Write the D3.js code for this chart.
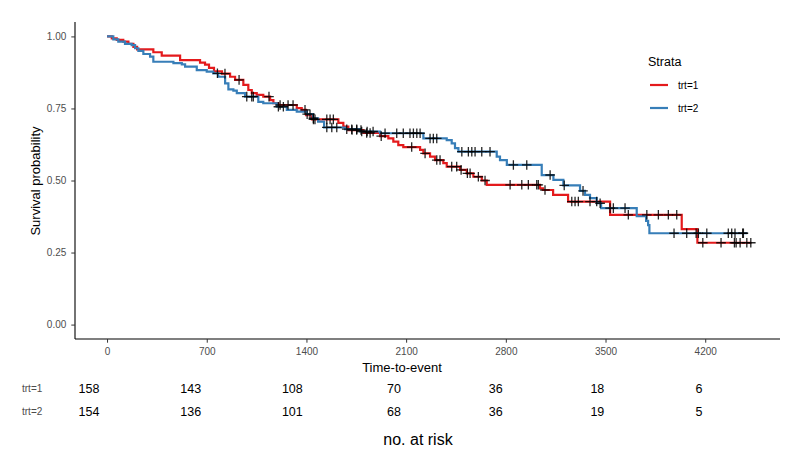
<!DOCTYPE html>
<html>
<head>
<meta charset="utf-8">
<script src="https://cdn.jsdelivr.net/npm/d3@7/dist/d3.min.js"></script>
<style>
  body { margin: 0; background: #fff; }
  text { font-family: "Liberation Sans", Arial, Helvetica, sans-serif; }
</style>
</head>
<body>
<svg id="chart" width="800" height="450"></svg>
<script>
// ---- data ----
var strata = ["trt=1", "trt=2"];
var colors = ["#E41A1C", "#377EB8"];

// trt=1 : step times (days) and survival after each step
var time1 = [0, 33, 68, 114, 150, 185, 211, 325, 384, 513, 653, 688, 716, 751, 807, 864, 899, 957, 992, 1016,
  1051, 1097, 1145, 1168, 1203, 1332, 1367, 1397, 1439, 1624, 1659, 1694, 1800, 1917, 1975, 2010, 2045, 2080,
  2198, 2221, 2268, 2303, 2361, 2385, 2479, 2526, 2572, 2631, 2666, 3040, 3061, 3132, 3237, 3532, 4035, 4145];
var surv1 = [1, 0.993, 0.988, 0.982, 0.974, 0.964, 0.955, 0.945, 0.933, 0.918, 0.909, 0.902, 0.891, 0.879, 0.871,
  0.860, 0.849, 0.832, 0.814, 0.803, 0.797, 0.791, 0.779, 0.768, 0.762, 0.751, 0.745, 0.727, 0.712, 0.700, 0.687,
  0.675, 0.665, 0.654, 0.646, 0.635, 0.623, 0.616, 0.606, 0.594, 0.583, 0.571, 0.560, 0.548, 0.537, 0.525, 0.513,
  0.500, 0.485, 0.473, 0.467, 0.450, 0.427, 0.381, 0.331, 0.284];
var end1 = 4523;
var cens1 = [828, 927, 1137, 1215, 1271, 1306, 1390, 1449, 1460, 1543, 1566, 1589, 1720, 1753, 1783, 1823, 1847,
  1925, 2139, 2233, 2315, 2338, 2420, 2455, 2486, 2530, 2549, 2607, 2654, 2830, 2912, 2958, 3017, 3028, 3075,
  3263, 3286, 3309, 3391, 3438, 3660, 3790, 3871, 3941, 4000, 4183, 4311, 4405, 4417, 4445, 4492, 4520];

// trt=2
var time2 = [0, 44, 79, 126, 173, 197, 220, 255, 302, 325, 466, 525, 548, 630, 700, 746, 781, 829, 852, 887, 911,
  969, 1062, 1097, 1192, 1262, 1332, 1402, 1446, 1482, 1524, 1671, 1776, 1917, 2221, 2385, 2420, 2443, 2467,
  2736, 2759, 2807, 3052, 3134, 3204, 3321, 3356, 3391, 3438, 3469, 3719, 3785, 3799, 3808];
var surv2 = [1, 0.990, 0.982, 0.974, 0.970, 0.959, 0.950, 0.939, 0.930, 0.912, 0.907, 0.903, 0.895, 0.883, 0.878,
  0.872, 0.860, 0.837, 0.816, 0.812, 0.803, 0.791, 0.773, 0.768, 0.756, 0.745, 0.739, 0.730, 0.716, 0.704, 0.684,
  0.678, 0.670, 0.664, 0.646, 0.640, 0.629, 0.612, 0.600, 0.583, 0.571, 0.554, 0.519, 0.502, 0.483, 0.464, 0.450,
  0.439, 0.421, 0.404, 0.376, 0.360, 0.345, 0.317];
var end2 = 4496;
var cens2 = [775, 981, 1016, 1027, 1203, 1238, 1405, 1425, 1449, 1543, 1578, 1613, 1683, 1718, 1753, 1788, 1826,
  1868, 1952, 2034, 2080, 2127, 2151, 2175, 2198, 2268, 2291, 2315, 2491, 2537, 2561, 2584, 2631, 2689, 2853,
  2947, 3111, 3210, 3342, 3462, 3532, 3555, 3637, 3981, 4070, 4136, 4152, 4211, 4362, 4386, 4409, 4463, 4468];

var xTicks = [0, 700, 1400, 2100, 2800, 3500, 4200];
var yTicks = [0, 0.25, 0.5, 0.75, 1];
var risk1 = [158, 143, 108, 70, 36, 18, 6];
var risk2 = [154, 136, 101, 68, 36, 19, 5];

// ---- layout ----
var svg = d3.select("#chart");
var panel = {left: 75, right: 780, top: 22, bottom: 339};

var x = d3.scaleLinear().domain([-225, 4725]).range([panel.left, panel.right]);
var y = d3.scaleLinear().domain([-0.05, 1.05]).range([panel.bottom, panel.top]);
// risk table sits in its own panel, slightly wider
var xr = d3.scaleLinear().domain([0, 4200]).range([89, 699]);

function survAt(times, surv, t) {
  var i = d3.bisectRight(times, t) - 1;
  return surv[Math.max(0, i)];
}

var groups = [
  {times: time1, surv: surv1, end: end1, cens: cens1},
  {times: time2, surv: surv2, end: end2, cens: cens2}
];

var line = d3.line()
  .x(function(d) { return x(d[0]); })
  .y(function(d) { return y(d[1]); })
  .curve(d3.curveStepAfter);

groups.forEach(function(g, k) {
  var pts = g.times.map(function(t, i) { return [t, g.surv[i]]; });
  pts.push([g.end, g.surv[g.surv.length - 1]]);
  svg.append("path")
    .attr("d", line(pts))
    .attr("fill", "none")
    .attr("stroke", colors[k])
    .attr("stroke-width", 2.2);
});

groups.forEach(function(g) {
  svg.append("g").selectAll("path")
    .data(g.cens)
    .enter().append("path")
    .attr("transform", function(t) { return "translate(" + x(t) + "," + y(survAt(g.times, g.surv, t)) + ")"; })
    .attr("d", "M-4.8,0H4.8M0,-4.8V4.8")
    .attr("stroke", "#000")
    .attr("stroke-opacity", 0.85)
    .attr("stroke-width", 1.3);
});

// axes
var xAxis = svg.append("g")
  .attr("transform", "translate(0," + panel.bottom + ")")
  .call(d3.axisBottom(x).tickValues(xTicks).tickSize(3.7).tickPadding(5).tickFormat(d3.format("d")));
var yAxis = svg.append("g")
  .attr("transform", "translate(" + panel.left + ",0)")
  .call(d3.axisLeft(y).tickValues(yTicks).tickSize(3.7).tickPadding(5).tickFormat(d3.format(".2f")));

[xAxis, yAxis].forEach(function(a) {
  a.select(".domain").attr("stroke", "#000").attr("stroke-width", 1.1);
  a.selectAll(".tick line").attr("stroke", "#333");
  a.selectAll(".tick text").attr("fill", "#4D4D4D").style("font-size", "10px");
});
xAxis.select(".domain").attr("d", "M" + panel.left + ",0H" + panel.right);
yAxis.select(".domain").attr("d", "M0," + panel.top + "V" + panel.bottom);

svg.append("text")
  .attr("x", 402).attr("y", 372)
  .attr("text-anchor", "middle")
  .style("font-size", "13px")
  .text("Time-to-event");

svg.append("text")
  .attr("transform", "translate(40,181) rotate(-90)")
  .attr("text-anchor", "middle")
  .style("font-size", "13px")
  .text("Survival probability");

// legend
var legend = svg.append("g").attr("transform", "translate(648,0)");
legend.append("text").attr("x", 0).attr("y", 66).style("font-size", "12.5px").text("Strata");
strata.forEach(function(s, k) {
  var ly = 85 + k * 23;
  legend.append("line").attr("x1", 2).attr("x2", 20).attr("y1", ly).attr("y2", ly)
    .attr("stroke", colors[k]).attr("stroke-width", 2.2);
  legend.append("text").attr("x", 30).attr("y", ly + 3.5).style("font-size", "10px").text(s);
});

// risk table
[risk1, risk2].forEach(function(row, k) {
  var ry = 393 + k * 23;
  svg.append("text").attr("x", 22).attr("y", ry - 1).attr("fill", "#4D4D4D")
    .style("font-size", "10px").text(strata[k]);
  svg.append("g").selectAll("text")
    .data(row)
    .enter().append("text")
    .attr("x", function(d, i) { return xr(xTicks[i]); })
    .attr("y", ry)
    .attr("text-anchor", "middle")
    .style("font-size", "12.5px")
    .text(function(d) { return d; });
});

svg.append("text")
  .attr("x", 418).attr("y", 445)
  .attr("text-anchor", "middle")
  .style("font-size", "16px")
  .text("no. at risk");
</script>
</body>
</html>
